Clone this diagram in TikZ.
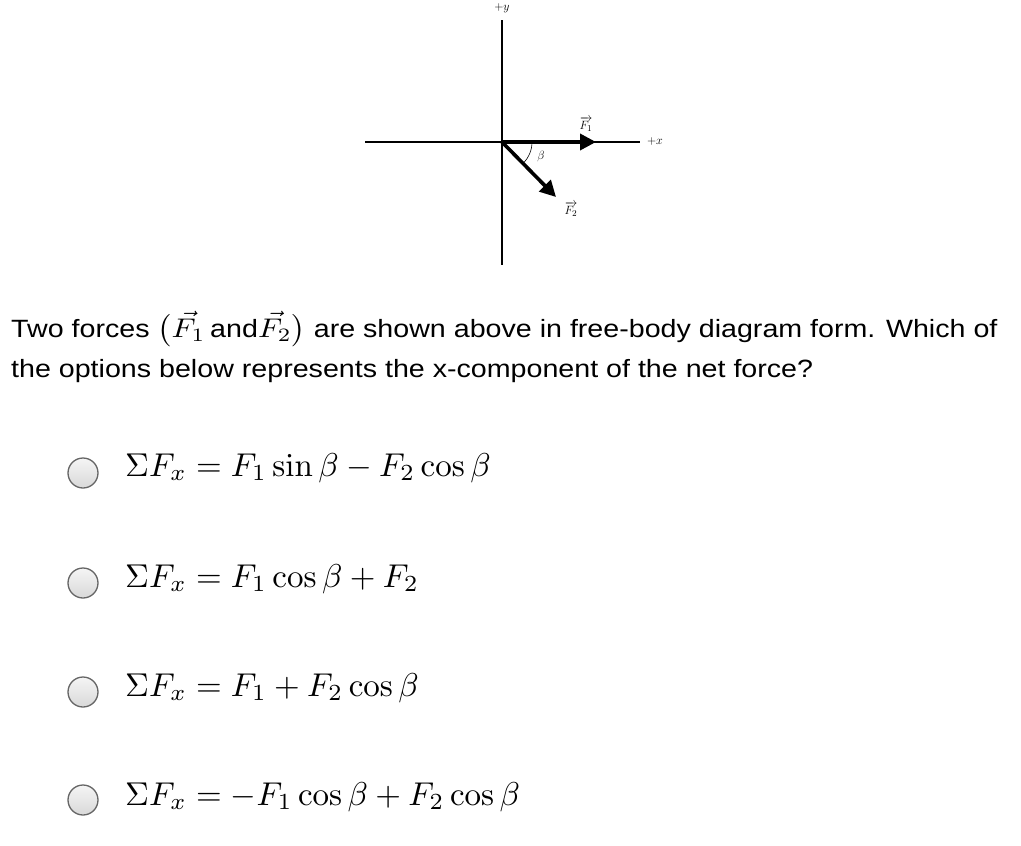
\documentclass[tikz,border=0pt]{standalone}
\usepackage{amsmath}
\usepackage[no-math]{fontspec}
\setmainfont{Liberation Sans}
\usetikzlibrary{arrows.meta}
\tikzset{
  axis/.style={line width=2pt, black},
  force/.style={line width=3.6pt, black, -{Triangle[length=16pt,width=16pt]}},
  lbl/.style={inner sep=0pt, font=\fontsize{13}{15}\selectfont},
  qtext/.style={anchor=base west, inner sep=0pt, font=\fontsize{25}{30}\selectfont},
  radio/.style={circle, minimum size=30pt, inner sep=0pt, draw=black!60, line width=1.3pt, top color=gray!8, bottom color=gray!30},
  eq/.style={anchor=base west, inner sep=0pt, font=\fontsize{10}{12}\selectfont}
}
\newcommand{\bigeq}[1]{\scalebox{3.3}{$#1$}}
\newcommand{\midm}[1]{{\fontsize{10}{12}\selectfont\scalebox{2.7}{$#1$}}}
\newcommand{\wide}[1]{\scalebox{1.145}[1]{#1}}
\begin{document}
\begin{tikzpicture}[x=1pt,y=-1pt]
\useasboundingbox (0,0) rectangle (1021,846);
\coordinate (O) at (502,142);
\coordinate (yt) at (502,20);
\coordinate (yb) at (502,265);
\coordinate (xl) at (365,142);
\coordinate (xr) at (640,142);
\draw[axis] (yt) -- (yb);
\draw[axis] (xl) -- (xr);
\coordinate (F1) at (596,142);
\coordinate (F2) at (556,197);
\draw[force] (O) -- (F1);
\draw[force] (O) -- (F2);
\coordinate (A) at (532,142);
\draw[line width=0.6pt] (A) arc[start angle=0, end angle=45, radius=30];
\node[lbl] (ly) at (502,8) {$+y$};
\node[lbl] (lx) at (655,141) {$+x$};
\node[lbl] (lb) at (541,156) {$\beta$};
\node[lbl] (lf1) at (586,124) {$\overrightarrow{F_1}$};
\node[lbl] (lf2) at (571,209) {$\overrightarrow{F_2}$};
\node[qtext] (q1) at (11,337) {\wide{Two forces \midm{\bigl(\vec{F_1}}\,and\midm{\vec{F_2}\bigr)} are shown above in free-body diagram form. Which of}};
\node[qtext] (q2) at (11,377) {\wide{the options below represents the x-component of the net force?}};
\node[radio] (r1) at (83,473) {};
\node[radio] (r2) at (83,583) {};
\node[radio] (r3) at (83,692) {};
\node[radio] (r4) at (83,800) {};
\node[eq] (e1) at (125,476) {\bigeq{\Sigma F_x = F_1\sin\beta - F_2\cos\beta}};
\node[eq] (e2) at (125,587) {\bigeq{\Sigma F_x = F_1\cos\beta + F_2}};
\node[eq] (e3) at (125,696) {\bigeq{\Sigma F_x = F_1 + F_2\cos\beta}};
\node[eq] (e4) at (125,805) {\bigeq{\Sigma F_x = -F_1\cos\beta + F_2\cos\beta}};
\end{tikzpicture}
\end{document}
